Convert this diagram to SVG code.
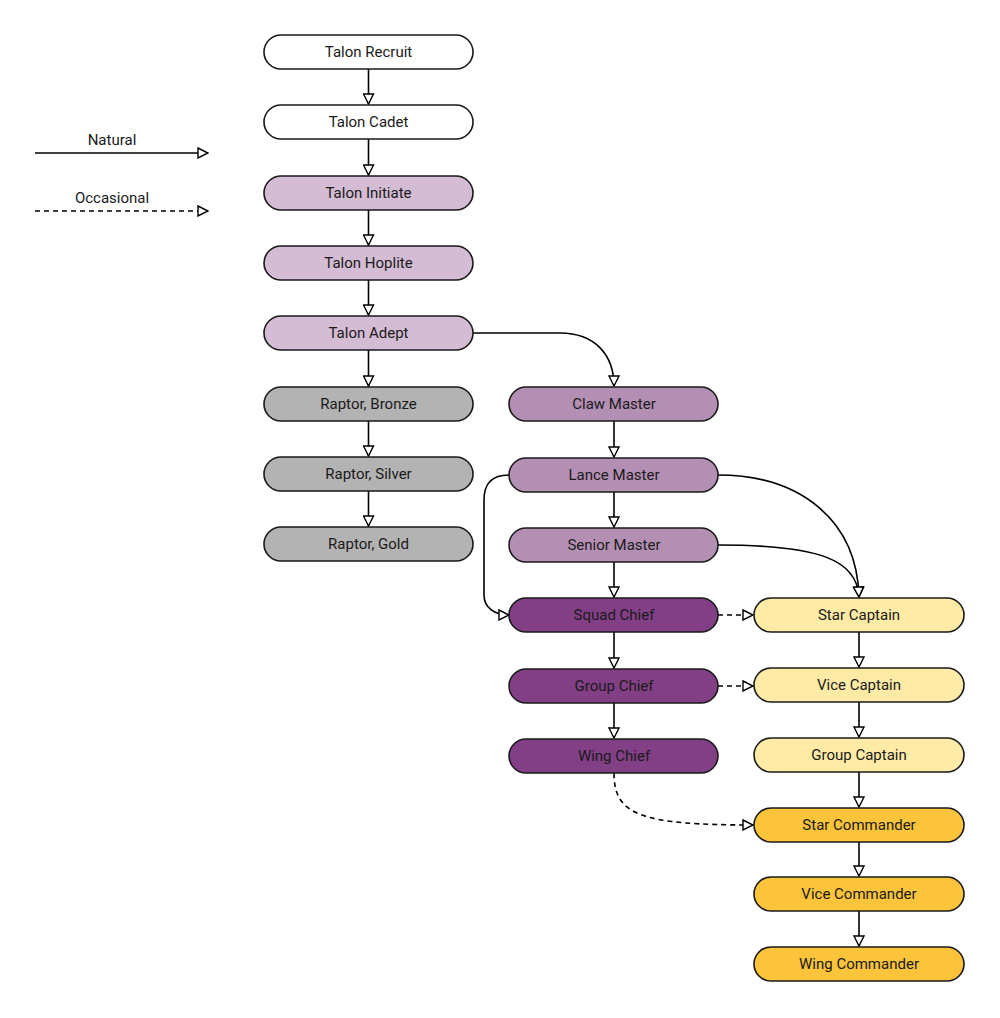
<svg xmlns="http://www.w3.org/2000/svg" width="1000" height="1018" viewBox="0 0 1000 1018">
<style>
.n rect{stroke:#1a1a1a;stroke-width:1.6}
.n text{font-family:Roboto,"Liberation Sans",sans-serif;font-size:15px;fill:#1a1a1a;text-anchor:middle;dominant-baseline:central}
.e{fill:none;stroke:#000;stroke-width:1.6;marker-end:url(#a)}
.d{stroke-dasharray:5,4}
.lg{font-family:Roboto,"Liberation Sans",sans-serif;font-size:15px;fill:#1a1a1a;text-anchor:middle}
</style>
<defs>
<marker id="a" viewBox="0 0 12 12" refX="11" refY="6" markerWidth="12" markerHeight="12" markerUnits="userSpaceOnUse" orient="auto">
<path d="M1,1 L11,6 L1,11 Z" fill="#fff" stroke="#000" stroke-width="1.4"/>
</marker>
</defs>
<rect width="1000" height="1018" fill="#fff"/>
<g id="legend">
<text class="lg" x="112" y="145">Natural</text>
<path class="e" d="M35,153 H208"/>
<text class="lg" x="112" y="203">Occasional</text>
<path class="e d" d="M35,211 H208"/>
</g>
<g id="edges">
<path class="e" d="M368.5,69 V104"/>
<path class="e" d="M368.5,139 V175"/>
<path class="e" d="M368.5,210 V245"/>
<path class="e" d="M368.5,280 V315"/>
<path class="e" d="M368.5,350 V386"/>
<path class="e" d="M368.5,421 V456"/>
<path class="e" d="M368.5,491 V526"/>
<path class="e" d="M473,333 H560 C595,333 614,355 614,386"/>
<path class="e" d="M614,421 V457"/>
<path class="e" d="M614,492 V527"/>
<path class="e" d="M614,562 V597"/>
<path class="e" d="M614,632 V668"/>
<path class="e" d="M614,703 V738"/>
<path class="e" d="M718,475 C800,475 857,520 859,597"/>
<path class="e" d="M718,545 C820,545 857,560 859,597"/>
<path class="e" d="M509,475 C490,475 484,485 484,500 V595 C484,608 495,615 509,615"/>
<path class="e d" d="M718,615 H753"/>
<path class="e d" d="M718,686 H753"/>
<path class="e d" d="M614,773 C614,815 640,825 753,825"/>
<path class="e" d="M859,632 V667"/>
<path class="e" d="M859,702 V737"/>
<path class="e" d="M859,772 V807"/>
<path class="e" d="M859,842 V876"/>
<path class="e" d="M859,911 V946"/>
</g>
<g id="n1" class="n"><rect x="264" y="35" width="209" height="34" rx="17" fill="#fff"/><text x="368.5" y="52">Talon Recruit</text></g>
<g id="n2" class="n"><rect x="264" y="105" width="209" height="34" rx="17" fill="#fff"/><text x="368.5" y="122">Talon Cadet</text></g>
<g id="n3" class="n"><rect x="264" y="176" width="209" height="34" rx="17" fill="#d4bcd4"/><text x="368.5" y="193">Talon Initiate</text></g>
<g id="n4" class="n"><rect x="264" y="246" width="209" height="34" rx="17" fill="#d4bcd4"/><text x="368.5" y="263">Talon Hoplite</text></g>
<g id="n5" class="n"><rect x="264" y="316" width="209" height="34" rx="17" fill="#d4bcd4"/><text x="368.5" y="333">Talon Adept</text></g>
<g id="n6" class="n"><rect x="264" y="387" width="209" height="34" rx="17" fill="#b3b3b3"/><text x="368.5" y="404">Raptor, Bronze</text></g>
<g id="n7" class="n"><rect x="264" y="457" width="209" height="34" rx="17" fill="#b3b3b3"/><text x="368.5" y="474">Raptor, Silver</text></g>
<g id="n8" class="n"><rect x="264" y="527" width="209" height="34" rx="17" fill="#b3b3b3"/><text x="368.5" y="544">Raptor, Gold</text></g>
<g id="n9" class="n"><rect x="509" y="387" width="209" height="34" rx="17" fill="#b48fb4"/><text x="614" y="404">Claw Master</text></g>
<g id="n10" class="n"><rect x="509" y="458" width="209" height="34" rx="17" fill="#b48fb4"/><text x="614" y="475">Lance Master</text></g>
<g id="n11" class="n"><rect x="509" y="528" width="209" height="34" rx="17" fill="#b48fb4"/><text x="614" y="545">Senior Master</text></g>
<g id="n12" class="n"><rect x="509" y="598" width="209" height="34" rx="17" fill="#833f86"/><text x="614" y="615">Squad Chief</text></g>
<g id="n13" class="n"><rect x="509" y="669" width="209" height="34" rx="17" fill="#833f86"/><text x="614" y="686">Group Chief</text></g>
<g id="n14" class="n"><rect x="509" y="739" width="209" height="34" rx="17" fill="#833f86"/><text x="614" y="756">Wing Chief</text></g>
<g id="n15" class="n"><rect x="754" y="598" width="210" height="34" rx="17" fill="#ffeba6"/><text x="859" y="615">Star Captain</text></g>
<g id="n16" class="n"><rect x="754" y="668" width="210" height="34" rx="17" fill="#ffeba6"/><text x="859" y="685">Vice Captain</text></g>
<g id="n17" class="n"><rect x="754" y="738" width="210" height="34" rx="17" fill="#ffeba6"/><text x="859" y="755">Group Captain</text></g>
<g id="n18" class="n"><rect x="754" y="808" width="210" height="34" rx="17" fill="#fbc43a"/><text x="859" y="825">Star Commander</text></g>
<g id="n19" class="n"><rect x="754" y="877" width="210" height="34" rx="17" fill="#fbc43a"/><text x="859" y="894">Vice Commander</text></g>
<g id="n20" class="n"><rect x="754" y="947" width="210" height="34" rx="17" fill="#fbc43a"/><text x="859" y="964">Wing Commander</text></g>
</svg>
